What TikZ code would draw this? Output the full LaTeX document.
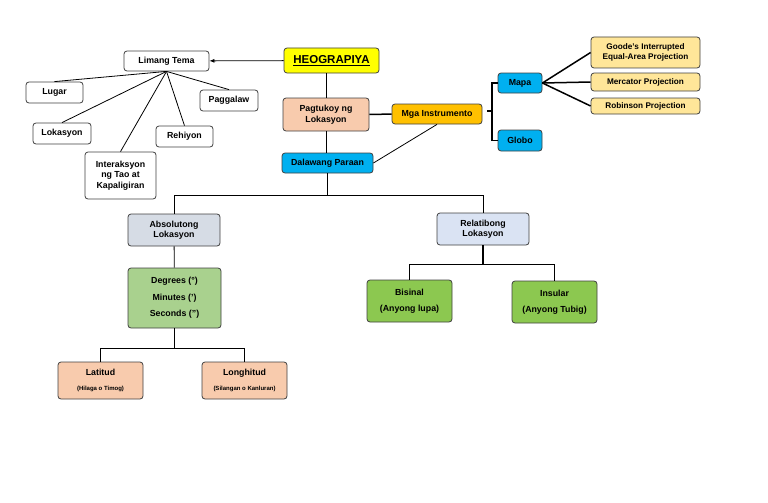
\documentclass[tikz,border=0pt]{standalone}
\usepackage{fontspec}
\setmainfont{Liberation Sans}
\usetikzlibrary{arrows.meta}
\definecolor{heoyellow}{HTML}{FFFF00}
\definecolor{peach}{HTML}{F8CBAD}
\definecolor{skyblue}{HTML}{00B0F0}
\definecolor{amber}{HTML}{FFC000}
\definecolor{paleyellow}{HTML}{FFE699}
\definecolor{greyblue}{HTML}{D6DCE5}
\definecolor{paleblue}{HTML}{DAE3F3}
\definecolor{sage}{HTML}{A9D18E}
\definecolor{leaf}{HTML}{8CC850}
\newcommand{\tinytext}[1]{{\fontsize{6}{7}\selectfont #1}}
\begin{document}
\begin{tikzpicture}[x=1pt,y=-1pt,
    box/.style={draw=black!75,line width=0.8pt,rounded corners=3pt,fill=white,
      font=\fontsize{8.8}{10.5}\selectfont\bfseries,align=center,inner sep=0pt},
    proj/.style={box,fill=paleyellow,minimum width=109pt,
      font=\fontsize{8.2}{10}\selectfont\bfseries}]
  \useasboundingbox (0,0) rectangle (768,503);
  % top part
  \node[box,fill=heoyellow,minimum width=95pt,minimum height=25pt,
    font=\fontsize{11.5}{13}\selectfont\bfseries] (heo) at (331.5,60.5) {\underline{HEOGRAPIYA}};
  \node[box,minimum width=85pt,minimum height=20pt] (tema) at (166.5,61) {Limang Tema};
  \node[box,minimum width=57pt,minimum height=21pt] (lugar) at (54.5,92.5) {Lugar};
  \node[box,minimum width=58pt,minimum height=21pt] (paggalaw) at (229,100.5) {Paggalaw};
  \node[box,minimum width=58pt,minimum height=21pt] (lokasyon) at (62,133.5) {Lokasyon};
  \node[box,minimum width=57pt,minimum height=21pt] (rehiyon) at (184.5,136.5) {Rehiyon};
  \node[box,minimum width=71pt,minimum height=47pt] (interaksyon) at (120.5,175.5)
    {Interaksyon\\ng Tao at\\Kapaligiran};
  \node[box,fill=peach,minimum width=86pt,minimum height=33pt] (pagtukoy) at (326,114.5)
    {Pagtukoy ng\\Lokasyon};
  \node[box,fill=skyblue,minimum width=91pt,minimum height=20pt] (paraan) at (327.5,163)
    {Dalawang Paraan};
  \node[box,fill=amber,minimum width=90pt,minimum height=20pt] (instrumento) at (437,114)
    {Mga Instrumento};
  \node[box,fill=skyblue,minimum width=44pt,minimum height=20pt] (mapa) at (520,83) {Mapa};
  \node[box,fill=skyblue,minimum width=44pt,minimum height=21pt] (globo) at (520,140.5) {Globo};
  \node[proj,minimum height=31pt] (goode) at (645.5,52.5) {Goode's Interrupted\\Equal-Area Projection};
  \node[proj,minimum height=18pt] (mercator) at (645.5,82) {Mercator Projection};
  \node[proj,minimum height=16pt] (robinson) at (645.5,106) {Robinson Projection};
  % bottom part
  \node[box,fill=greyblue,minimum width=92pt,minimum height=32pt] (absolut) at (174,230)
    {Absolutong\\Lokasyon};
  \node[box,fill=paleblue,minimum width=92pt,minimum height=32pt] (relatib) at (483,229)
    {Relatibong\\Lokasyon};
  \node[box,fill=sage,minimum width=93pt,minimum height=60pt] (degrees) at (174.5,298)
    {Degrees (°)\\[6pt]Minutes (')\\[6pt]Seconds ('')};
  \node[box,fill=peach,minimum width=85pt,minimum height=37pt] (latitud) at (100.5,380.5)
    {Latitud\\[4pt]\tinytext{(Hilaga o Timog)}};
  \node[box,fill=peach,minimum width=85pt,minimum height=37pt] (longhitud) at (244.5,380.5)
    {Longhitud\\[4pt]\tinytext{(Silangan o Kanluran)}};
  \node[box,fill=leaf,minimum width=85pt,minimum height=42pt] (bisinal) at (409.5,301)
    {Bisinal\\[6pt](Anyong lupa)};
  \node[box,fill=leaf,minimum width=85pt,minimum height=42pt] (insular) at (554.5,302)
    {Insular\\[6pt](Anyong Tubig)};
  \coordinate (brk) at (492,111);
  \begin{scope}[line width=0.8pt]
    \draw[-{Latex[length=5pt,width=4pt]}] (heo) -- (tema);
    \draw (tema.south) -- (lugar.north);
    \draw (tema.south) -- (lokasyon.north);
    \draw (tema.south) -- (interaksyon.north);
    \draw (tema.south) -- (rehiyon.north);
    \draw (tema.south) -- (paggalaw.north);
    \draw (pagtukoy.north) -- (pagtukoy.north |- heo.south);
    \draw (pagtukoy.south) -- (pagtukoy.south |- paraan.north);
    \draw (paraan.east) -- (instrumento.south);
    \draw (paraan.south) -- ++(0,22) coordinate (split1);
    \draw (absolut.north) |- (split1) -| (relatib.north);
    \draw (absolut) -- (degrees);
    \draw (degrees.south) -- ++(0,20) coordinate (split2);
    \draw (latitud.north) |- (split2) -| (longhitud.north);
  \end{scope}
  \begin{scope}[line width=1.5pt]
    \draw (pagtukoy) -- (instrumento);
    \draw (brk) -- ++(-5,0);
    \draw (mapa.west) -| (brk) |- (globo.west);
    \draw (mapa.east) -- (goode.west);
    \draw (mapa.east) -- (mercator.west);
    \draw (mapa.east) -- (robinson.west);
    \draw (relatib.south) -- ++(0,19) coordinate (split3);
    \draw (bisinal.north) |- (split3) -| (insular.north);
  \end{scope}
\end{tikzpicture}
\end{document}
